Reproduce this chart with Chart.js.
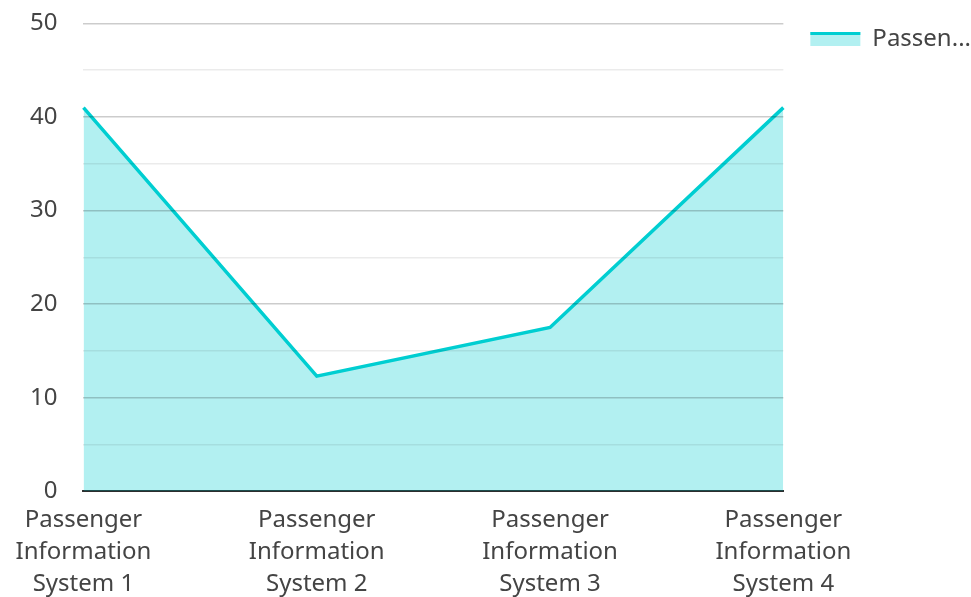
<!DOCTYPE html>
<html>
<head>
<meta charset="utf-8">
<script src="https://cdn.jsdelivr.net/npm/chart.js@4.4.1/dist/chart.umd.min.js"></script>
<style>
  html, body { margin: 0; padding: 0; background: #fff; }
  #wrap { width: 971px; height: 597px; }
</style>
</head>
<body>
<div id="wrap"><canvas id="chart"></canvas></div>
<script>
const categories = [
  ["Passenger", "Information", "System 1"],
  ["Passenger", "Information", "System 2"],
  ["Passenger", "Information", "System 3"],
  ["Passenger", "Information", "System 4"]
];
const seriesName = "Passengers";
const seriesValues = [41, 12.3, 17.5, 41];
const yTicks = [0, 10, 20, 30, 40, 50];

const lineColor = "#00CED1";
const fillColor = "rgba(0, 206, 209, 0.3)";
const textColor = "#444";

Chart.defaults.font.family = "'Noto Sans', 'Open Sans', sans-serif";
Chart.defaults.font.size = 24;
Chart.defaults.color = textColor;

new Chart(document.getElementById("chart"), {
  type: "line",
  data: {
    labels: categories,
    datasets: [{
      label: seriesName,
      data: seriesValues,
      borderColor: lineColor,
      backgroundColor: fillColor,
      borderWidth: 3.5,
      fill: "origin",
      pointRadius: 0,
      tension: 0
    }]
  },
  options: {
    responsive: true,
    maintainAspectRatio: false,
    animation: false,
    layout: { padding: { top: 0, left: 21, right: -10, bottom: -8 } },
    plugins: {
      tooltip: { enabled: false },
      legend: {
        position: "right",
        align: "start",
        labels: {
          boxWidth: 50,
          boxHeight: 14,
          padding: 27,
          font: { size: 24 },
          generateLabels: chart => {
            const items = Chart.defaults.plugins.legend.labels.generateLabels(chart);
            items.forEach(it => {
              if (it.text.length > 6) it.text = it.text.slice(0, 6) + "...";
              it.lineWidth = 0;
            });
            return items;
          }
        }
      }
    },
    scales: {
      x: {
        offset: false,
        grid: { display: false },
        border: { display: true, color: "#333", width: 2 },
        ticks: { maxRotation: 0, autoSkip: false, padding: 5, font: { size: 24, lineHeight: 1.33 } }
      },
      y: {
        min: 0,
        max: 50,
        grid: {
          drawTicks: true,
          tickLength: 17,
          tickColor: "transparent",
          color: ctx => (ctx.tick && ctx.tick.value % 10 === 0) ? "rgba(0,0,0,0.2)" : "rgba(0,0,0,0.08)",
          lineWidth: 1.5,
          z: 1
        },
        border: { display: false },
        ticks: {
          stepSize: 5,
          padding: 9,
          font: { size: 24 },
          callback: v => yTicks.includes(v) ? v : ""
        }
      }
    }
  },
  plugins: [{
    id: "legendBox",
    afterDraw(chart) {
      // cyan stroke along the top of the legend box
      const legend = chart.legend;
      if (!legend || !legend.legendHitBoxes) return;
      const ctx = chart.ctx;
      legend.legendHitBoxes.forEach(box => {
        const top = box.top + (box.height - 14) / 2;
        ctx.save();
        ctx.fillStyle = lineColor;
        ctx.fillRect(box.left, top, 50, 3);
        ctx.restore();
      });
    }
  }]
});
</script>
</body>
</html>
